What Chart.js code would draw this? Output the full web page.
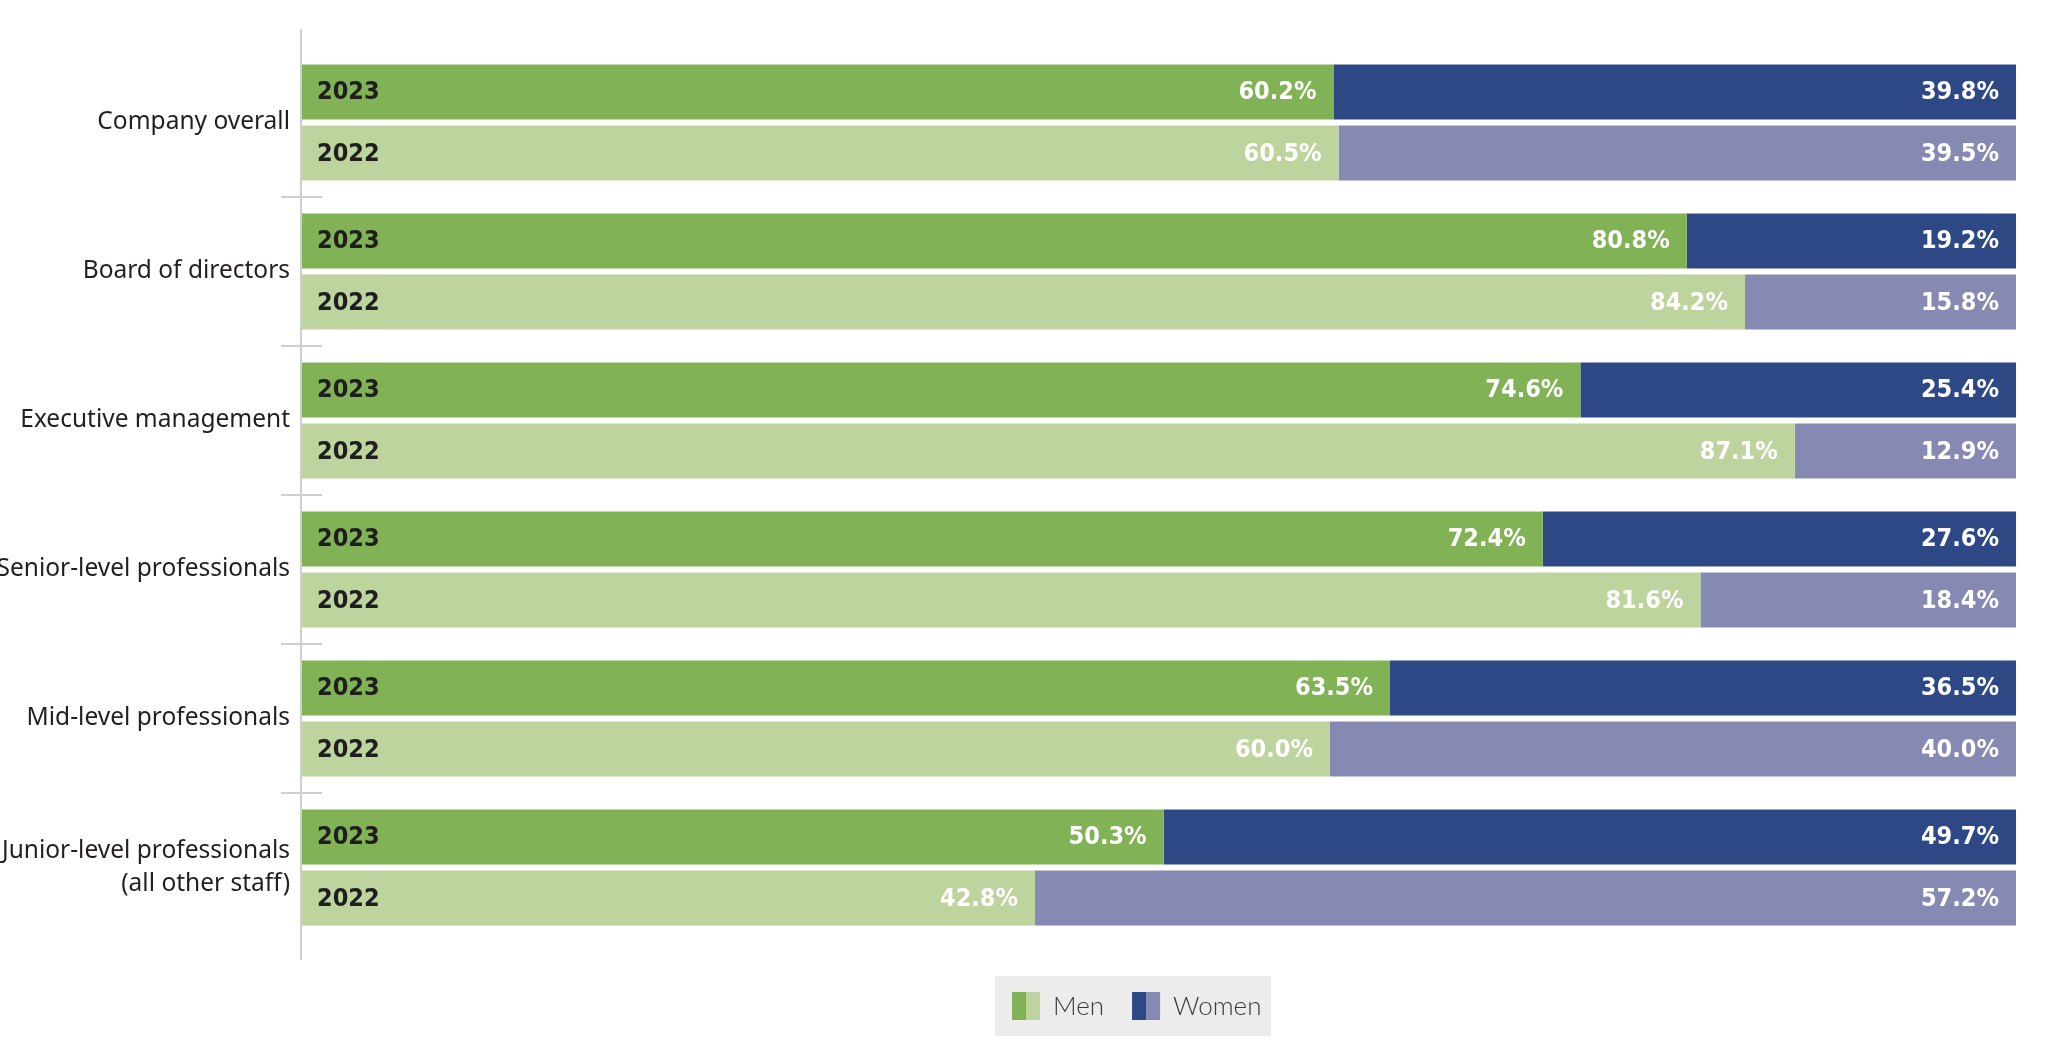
<!DOCTYPE html>
<html>
<head>
  <title>Gender split by level</title>
  <script src="https://cdn.jsdelivr.net/npm/chart.js"></script>
  <style>
    body { margin: 0; background: #fff; }
    canvas { display: block; }
  </style>
</head>
<body>
  <canvas id="genderChart" width="2062" height="1053"></canvas>

  <script>
    // data
    const categories = [
      "Company overall",
      "Board of directors",
      "Executive management",
      "Senior-level professionals",
      "Mid-level professionals",
      ["Junior-level professionals", "(all other staff)"]
    ];
    const years = ["2023", "2022"];
    const men2023 = [60.2, 80.8, 74.6, 72.4, 63.5, 50.3];
    const women2023 = [39.8, 19.2, 25.4, 27.6, 36.5, 49.7];
    const men2022 = [60.5, 84.2, 87.1, 81.6, 60.0, 42.8];
    const women2022 = [39.5, 15.8, 12.9, 18.4, 40.0, 57.2];

    const colors = {
      men2023: "#82b256",
      men2022: "#bdd49e",
      women2023: "#2e4886",
      women2022: "#868ab2"
    };

    const boldFont = "bold 25px 'Liberation Sans Narrow', 'DejaVu Sans Condensed', Roboto, sans-serif";

    // year + percentage labels on the bars
    const barLabels = {
      id: "barLabels",
      afterDatasetsDraw(chart) {
        const ctx = chart.ctx;
        ctx.save();
        ctx.font = boldFont;
        ctx.textBaseline = "middle";
        chart.data.datasets.forEach((ds, di) => {
          const meta = chart.getDatasetMeta(di);
          meta.data.forEach((bar, i) => {
            const p = bar.getProps(["x", "y", "base"], true);
            if (ds.label === "Men") {
              ctx.fillStyle = "#1e1e1e";
              ctx.textAlign = "left";
              ctx.fillText(ds.stack, p.base + 16, p.y + 1);
            }
            ctx.fillStyle = "#ffffff";
            ctx.textAlign = "right";
            ctx.fillText(ds.data[i].toFixed(1) + "%", p.x - 17, p.y + 1);
          });
        });
        ctx.restore();
      }
    };

    // vertical axis line with separators between categories
    const axisLines = {
      id: "axisLines",
      afterDraw(chart) {
        const ctx = chart.ctx;
        const area = chart.chartArea;
        const y = chart.scales.y;
        ctx.save();
        ctx.strokeStyle = "#cfcfcf";
        ctx.lineWidth = 2;
        ctx.beginPath();
        ctx.moveTo(area.left, area.top - 19);
        ctx.lineTo(area.left, area.bottom + 18);
        for (let i = 0; i < categories.length - 1; i++) {
          const yy = Math.round((y.getPixelForValue(i) + y.getPixelForValue(i + 1)) / 2);
          ctx.moveTo(area.left - 20, yy);
          ctx.lineTo(area.left + 21, yy);
        }
        ctx.stroke();
        ctx.restore();
      }
    };

    // legend box with two-tone swatches
    const twoToneLegend = {
      id: "twoToneLegend",
      afterDraw(chart) {
        const ctx = chart.ctx;
        const items = [
          { text: "Men", dark: colors.men2023, light: colors.men2022 },
          { text: "Women", dark: colors.women2023, light: colors.women2022 }
        ];
        const boxX = 995, boxY = 976, boxW = 276, boxH = 60;
        ctx.save();
        ctx.fillStyle = "#ececec";
        ctx.fillRect(boxX, boxY, boxW, boxH);
        ctx.font = "300 26px Lato, 'Open Sans', sans-serif";
        ctx.textBaseline = "middle";
        ctx.textAlign = "left";
        let x = boxX + 17;
        const cy = boxY + boxH / 2;
        items.forEach(item => {
          ctx.fillStyle = item.dark;
          ctx.fillRect(x, cy - 14, 14, 28);
          ctx.fillStyle = item.light;
          ctx.fillRect(x + 14, cy - 14, 14, 28);
          ctx.fillStyle = "#3a3a3a";
          ctx.fillText(item.text, x + 41, cy + 1);
          x += 41 + ctx.measureText(item.text).width + 28;
        });
        ctx.restore();
      }
    };

    const ctx = document.getElementById("genderChart").getContext("2d");
    new Chart(ctx, {
      type: "bar",
      data: {
        labels: categories,
        datasets: [
          { label: "Men", stack: years[0], data: men2023, backgroundColor: colors.men2023 },
          { label: "Women", stack: years[0], data: women2023, backgroundColor: colors.women2023 },
          { label: "Men", stack: years[1], data: men2022, backgroundColor: colors.men2022 },
          { label: "Women", stack: years[1], data: women2022, backgroundColor: colors.women2022 }
        ]
      },
      options: {
        responsive: false,
        animation: false,
        indexAxis: "y",
        barPercentage: 0.9,
        categoryPercentage: 0.82,
        layout: {
          padding: { top: 48, bottom: 111, right: 46, left: 0 }
        },
        scales: {
          x: {
            stacked: true,
            min: 0,
            max: 100,
            display: false
          },
          y: {
            stacked: true,
            grid: { display: false },
            border: { display: false },
            ticks: {
              padding: 3,
              color: "#231f20",
              font: { family: "'Noto Sans', sans-serif", size: 24.5, lineHeight: 1.35 }
            },
            afterFit(scale) {
              scale.width = 301;
            }
          }
        },
        plugins: {
          legend: { display: false },
          tooltip: { enabled: false }
        }
      },
      plugins: [barLabels, axisLines, twoToneLegend]
    });
  </script>
</body>
</html>
